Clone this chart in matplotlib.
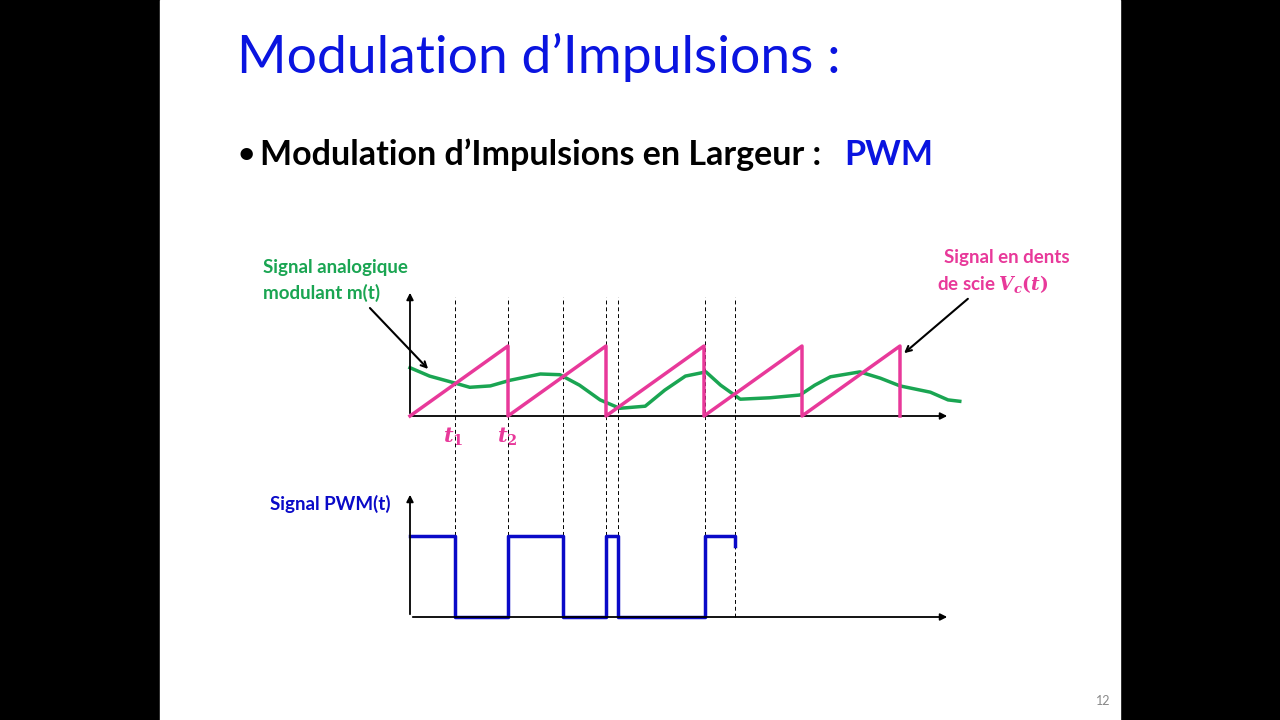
import matplotlib
matplotlib.use("Agg")
import matplotlib.pyplot as plt
import numpy as np

plt.rcParams['font.family'] = ['Lato', 'DejaVu Sans']
plt.rcParams['mathtext.fontset'] = 'custom'
plt.rcParams['mathtext.it'] = 'DejaVu Serif:italic:bold'
plt.rcParams['mathtext.rm'] = 'DejaVu Serif:bold'

# data (time in sawtooth periods)
saw_peaks = [1, 2, 3, 4, 5]
m_t = [0, 0.20, 0.46, 0.61, 0.82, 1.02, 1.33, 1.53, 1.73, 1.94, 2.14, 2.40, 2.60, 2.81, 3.02,
       3.17, 3.37, 3.67, 3.98, 4.13, 4.29, 4.59, 4.80, 5.00, 5.31, 5.49, 5.61]
m_v = [0.69, 0.57, 0.47, 0.41, 0.43, 0.51, 0.60, 0.59, 0.44, 0.23, 0.11, 0.14, 0.37, 0.57, 0.63,
       0.44, 0.24, 0.26, 0.30, 0.44, 0.56, 0.63, 0.54, 0.43, 0.34, 0.23, 0.21]
cross_t = [0.46, 1.0, 1.56, 2.0, 2.12, 3.01, 3.32]
pwm_t = [0, 0.46, 1.0, 1.56, 2.0, 2.12, 3.01, 3.32]
pwm_v = [1, 0, 1, 0, 1, 0, 1]

W, H = 1280, 720
fig = plt.figure(figsize=(12.8, 7.2), dpi=100)
fig.patch.set_facecolor('black')
bg = fig.add_axes([0, 0, 1, 1])
bg.set_xlim(0, W); bg.set_ylim(H, 0); bg.axis('off')
bg.add_patch(plt.Rectangle((160, 0), 960, 720, color='white'))

BLUE = '#0a14e0'; PINK = '#e8399a'; GREEN = '#1aa552'; NAVY = '#0a0ac8'

bg.text(237, 57, "Modulation d’Impulsions :", color=BLUE, fontsize=38.5, va='center', ha='left')
bg.text(236, 155, "•", fontsize=24, va='center')
bg.text(260, 155, "Modulation d’Impulsions en Largeur : ", fontsize=24.5, fontweight='bold', va='center')
bg.text(933, 155, "PWM", fontsize=24.5, fontweight='bold', va='center', ha='right', color=BLUE)
bg.text(263, 267, "Signal analogique", color=GREEN, fontsize=13.5, fontweight='bold', va='center')
bg.text(263, 293, "modulant m(t)", color=GREEN, fontsize=13.5, fontweight='bold', va='center')
bg.text(1070, 258, "Signal en dents", color=PINK, fontsize=13.5, fontweight='bold', va='center', ha='right')
bg.text(937, 284, r"de scie $V_c(t)$", color=PINK, fontsize=13.5, fontweight='bold', va='center', ha='left')
bg.text(270, 504, "Signal PWM(t)", color=NAVY, fontsize=13.5, fontweight='bold', va='center')
bg.text(1110, 701, "12", color='#888888', fontsize=9, va='center', ha='right')
bg.annotate("", xy=(430, 371), xytext=(368, 306), arrowprops=dict(arrowstyle='->', color='black', lw=1.5))
bg.annotate("", xy=(902, 355), xytext=(970, 297), arrowprops=dict(arrowstyle='->', color='black', lw=1.5))
bg.text(453, 437, r"$t_1$", color=PINK, fontsize=15, ha='center', va='center')
bg.text(507, 437, r"$t_2$", color=PINK, fontsize=15, ha='center', va='center')

px, py = 98.0, 70.0
def make_ax(x0, y0, xend, ytop, yunit):
    ax = fig.add_axes([x0 / W, (H - y0) / H, (xend - x0) / W, (y0 - ytop) / H])
    ax.set_xlim(0, (xend - x0) / px); ax.set_ylim(0, (y0 - ytop) / yunit)
    ax.axis('off'); ax.patch.set_alpha(0)
    ax.annotate("", xy=(1, 0), xytext=(0, 0), xycoords='axes fraction',
                arrowprops=dict(arrowstyle='-|>', color='black', lw=1.3, mutation_scale=10))
    ax.annotate("", xy=(0, 1), xytext=(0, 0), xycoords='axes fraction',
                arrowprops=dict(arrowstyle='-|>', color='black', lw=1.3, mutation_scale=10))
    return ax

top = make_ax(410, 416, 950, 290, py)
st, sv = [0], [0]
for p in saw_peaks:
    st += [p, p]; sv += [1, 0]
top.plot(st, sv, color=PINK, lw=2.5, clip_on=False, zorder=3)
top.plot(m_t, m_v, color=GREEN, lw=2.5, clip_on=False, zorder=2)
for t in cross_t:
    top.plot([t, t], [-(617 - 416) / py, (416 - 297) / py], color='black', lw=0.7, ls=(0, (4, 3)), clip_on=False)

bot = make_ax(410, 617, 950, 492, 81.0)
bx, by = [], []
for i, v in enumerate(pwm_v):
    bx += [pwm_t[i], pwm_t[i + 1]]; by += [v, v]
bx.append(pwm_t[-1]); by.append(0.88)
bot.plot(bx, by, color=NAVY, lw=2.5, clip_on=False)

fig.savefig("out.png", dpi=100, facecolor='black')
